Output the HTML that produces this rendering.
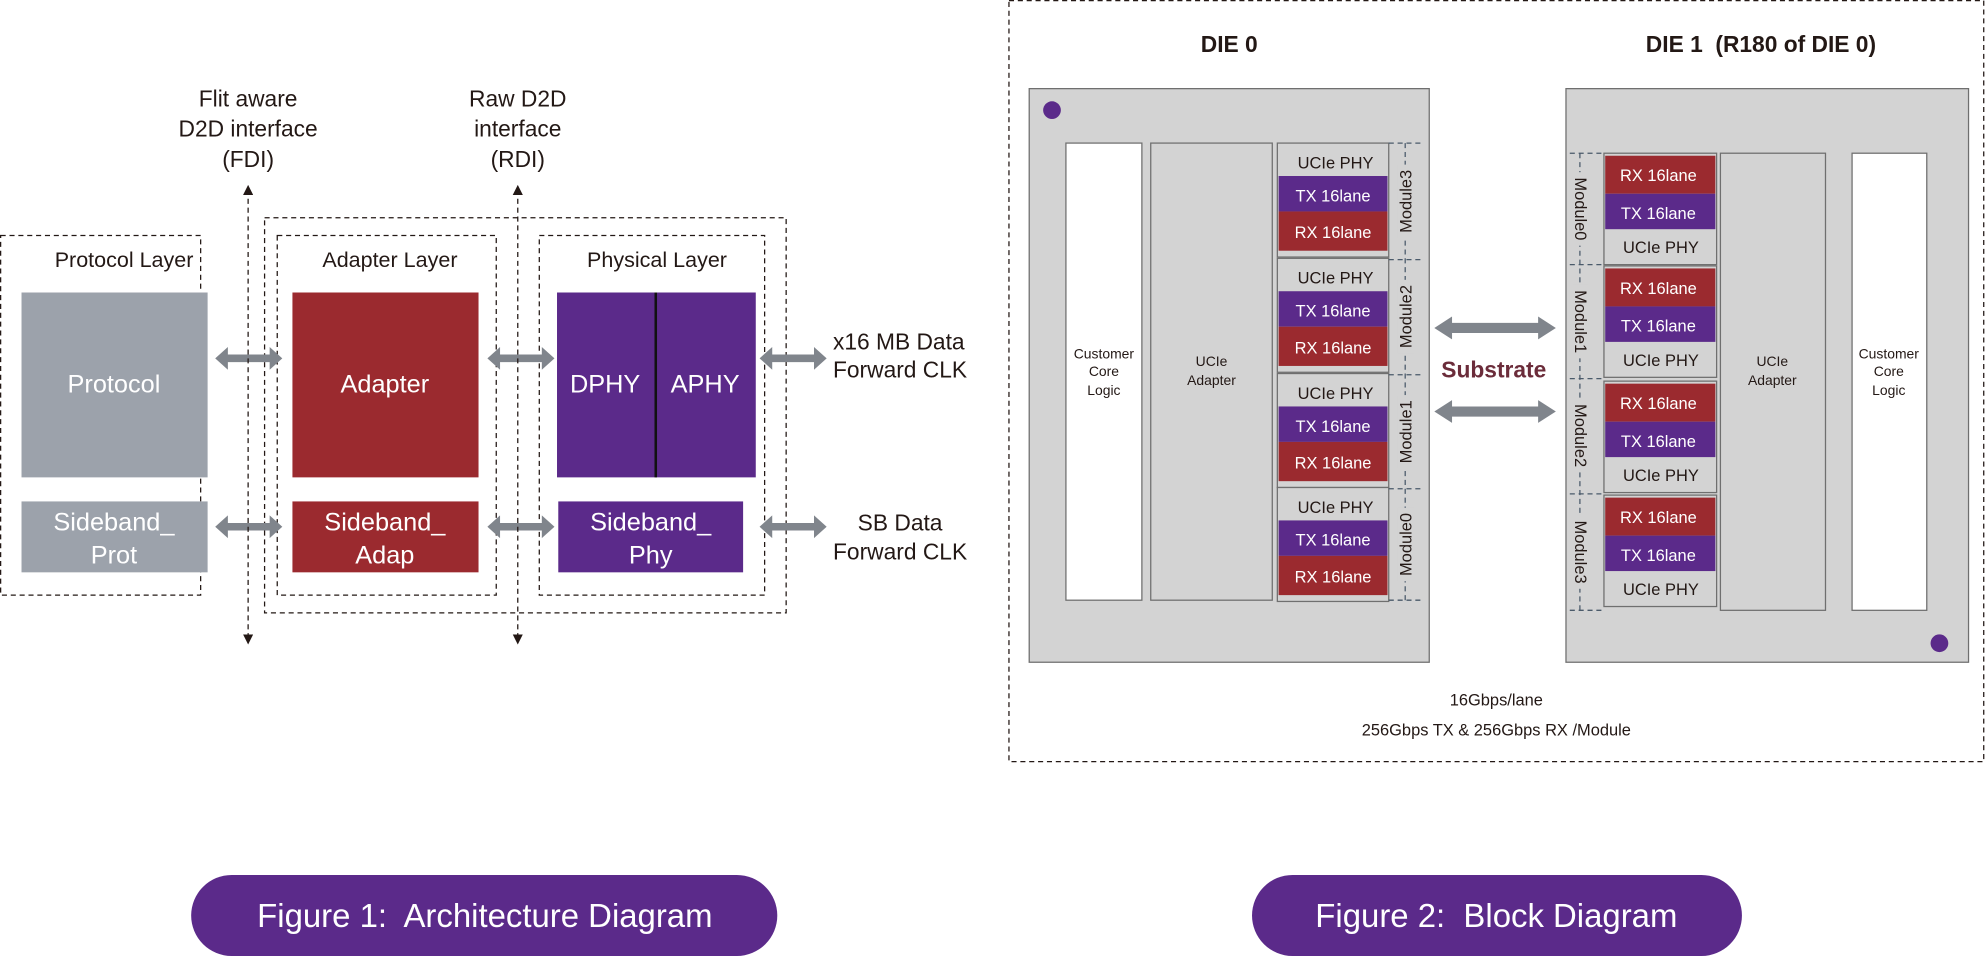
<!DOCTYPE html>
<html><head><meta charset="utf-8"><style>
html,body{margin:0;padding:0;background:#fff;width:1985px;height:956px;overflow:hidden}
svg{display:block}
text{font-family:"Liberation Sans",sans-serif}
</style></head><body>
<svg width="1985" height="956" viewBox="0 0 1568 755" preserveAspectRatio="none" xmlns="http://www.w3.org/2000/svg">
<defs>
<marker id="ah" viewBox="0 0 10 10" refX="5" refY="5" markerWidth="8" markerHeight="8" orient="auto-start-reverse"><path d="M0,0L10,5L0,10z" fill="#231815"/></marker>
<g id="darr"><path d="M0,0 l10,-9 v6 h33 v-6 l10,9 l-10,9 v-6 h-33 v6z" fill="#80858c"/></g>
<g id="darrB"><path d="M0,0 l14,-9 v5 h68 v-5 l14,9 l-14,9 v-5 h-68 v5z" fill="#80858c"/></g>
</defs>

<!-- Figure 1 -->
<g font-size="18" fill="#231815" text-anchor="middle">
<text x="196" y="84">Flit aware</text><text x="196" y="108">D2D interface</text><text x="196" y="132">(FDI)</text>
<text x="409" y="84">Raw D2D</text><text x="409" y="108">interface</text><text x="409" y="132">(RDI)</text>
</g>
<g fill="none" stroke="#231815" stroke-width="1" stroke-dasharray="4,3">
<rect x="209" y="172" width="412" height="312"/>
<rect x="0.5" y="186" width="158" height="284"/>
<rect x="219" y="186" width="173" height="284"/>
<rect x="426" y="186" width="178" height="284"/>
</g>
<g font-size="17" fill="#231815" text-anchor="middle">
<text x="98" y="211">Protocol Layer</text><text x="308" y="211">Adapter Layer</text><text x="519" y="211">Physical Layer</text>
</g>
<rect x="17" y="231" width="147" height="146" fill="#9ca2ab"/>
<rect x="231" y="231" width="147" height="146" fill="#9b2a2f"/>
<rect x="440" y="231" width="157" height="146" fill="#5b2a8a"/>
<line x1="518" y1="231" x2="518" y2="377" stroke="#111" stroke-width="2"/>
<rect x="17" y="396" width="147" height="56" fill="#9ca2ab"/>
<rect x="231" y="396" width="147" height="56" fill="#9b2a2f"/>
<rect x="441" y="396" width="146" height="56" fill="#5b2a8a"/>
<g fill="#fff" text-anchor="middle" font-size="20">
<text x="90" y="310">Protocol</text><text x="304" y="310">Adapter</text>
<text x="478" y="310">DPHY</text><text x="557" y="310">APHY</text>
<text x="90" y="419">Sideband_</text><text x="90" y="445">Prot</text>
<text x="304" y="419">Sideband_</text><text x="304" y="445">Adap</text>
<text x="514" y="419">Sideband_</text><text x="514" y="445">Phy</text>
</g>
<use href="#darr" x="170" y="283"/><use href="#darr" x="170" y="416"/>
<use href="#darr" x="385" y="283"/><use href="#darr" x="385" y="416"/>
<use href="#darr" x="600" y="283"/><use href="#darr" x="600" y="416"/>
<g stroke="#231815" stroke-width="1" stroke-dasharray="4,3">
<line x1="196" y1="150" x2="196" y2="505" marker-start="url(#ah)" marker-end="url(#ah)"/>
<line x1="409" y1="150" x2="409" y2="505" marker-start="url(#ah)" marker-end="url(#ah)"/>
</g>
<g font-size="18" fill="#231815">
<text x="658" y="276">x16 MB Data</text><text x="658" y="298">Forward CLK</text>
<text x="711" y="419" text-anchor="middle">SB Data</text><text x="711" y="442" text-anchor="middle">Forward CLK</text>
</g>

<!-- Figure 2 -->
<rect x="797" y="0.5" width="770" height="601" fill="none" stroke="#231815" stroke-dasharray="4,3"/>
<g font-size="18" font-weight="bold" fill="#231815" text-anchor="middle">
<text x="971" y="41">DIE 0</text><text x="1391" y="41" xml:space="preserve">DIE 1  (R180 of DIE 0)</text>
</g>
<rect x="813" y="70" width="316" height="453" fill="#d3d3d3" stroke="#6f6f6f"/>
<rect x="1237" y="70" width="318" height="453" fill="#d3d3d3" stroke="#6f6f6f"/>
<circle cx="831" cy="87" r="7" fill="#5b2a8a"/><circle cx="1532" cy="508" r="7" fill="#5b2a8a"/>
<rect x="842" y="113" width="60" height="361" fill="#fff" stroke="#6f6f6f"/>
<rect x="909" y="113" width="96" height="361" fill="#d3d3d3" stroke="#6f6f6f"/>
<rect x="1463" y="121" width="59" height="361" fill="#fff" stroke="#6f6f6f"/>
<rect x="1359" y="121" width="83" height="361" fill="#d3d3d3" stroke="#6f6f6f"/>
<g font-size="11" fill="#231815" text-anchor="middle">
<text x="872" y="283">Customer</text><text x="872" y="297">Core</text><text x="872" y="312">Logic</text>
<text x="957" y="289">UCIe</text><text x="957" y="304">Adapter</text>
<text x="1492" y="283">Customer</text><text x="1492" y="297">Core</text><text x="1492" y="312">Logic</text>
<text x="1400" y="289">UCIe</text><text x="1400" y="304">Adapter</text>
</g>
<g font-size="13" text-anchor="middle">
<g id="m0">
<rect x="1009" y="113" width="88" height="90" fill="#d3d3d3" stroke="#6f6f6f"/>
<rect x="1010" y="139" width="86" height="28" fill="#5b2a8a"/>
<rect x="1010" y="167" width="86" height="31" fill="#9b2a2f"/>
<text x="1055" y="133" fill="#231815">UCIe PHY</text>
<text x="1053" y="159" fill="#fff">TX 16lane</text>
<text x="1053" y="188" fill="#fff">RX 16lane</text>
</g>
<use href="#m0" y="91"/><use href="#m0" y="182"/><use href="#m0" y="272"/>
<g id="m1">
<rect x="1267" y="121" width="89" height="88" fill="#d3d3d3" stroke="#6f6f6f"/>
<rect x="1268" y="123" width="87" height="30" fill="#9b2a2f"/>
<rect x="1268" y="153" width="87" height="28" fill="#5b2a8a"/>
<text x="1310" y="143" fill="#fff">RX 16lane</text>
<text x="1310" y="173" fill="#fff">TX 16lane</text>
<text x="1312" y="200" fill="#231815">UCIe PHY</text>
</g>
<use href="#m1" y="89"/><use href="#m1" y="180"/><use href="#m1" y="270"/>
</g>
<g stroke="#4a5a6a" stroke-dasharray="4,3" fill="none">
<line x1="1110" y1="113" x2="1110" y2="474"/>
<line x1="1097" y1="113" x2="1123" y2="113"/><line x1="1097" y1="205" x2="1123" y2="205"/>
<line x1="1097" y1="296" x2="1123" y2="296"/><line x1="1097" y1="386" x2="1123" y2="386"/>
<line x1="1097" y1="474" x2="1123" y2="474"/>
<line x1="1248" y1="121" x2="1248" y2="482"/>
<line x1="1240" y1="121" x2="1267" y2="121"/><line x1="1240" y1="209" x2="1267" y2="209"/>
<line x1="1240" y1="299" x2="1267" y2="299"/><line x1="1240" y1="390" x2="1267" y2="390"/>
<line x1="1240" y1="482" x2="1267" y2="482"/>
</g>
<g font-size="13" fill="#231815" text-anchor="middle">
<g fill="#231815">
<rect x="1104" y="130" width="13" height="58" fill="#d3d3d3"/><rect x="1104" y="221" width="13" height="58" fill="#d3d3d3"/>
<rect x="1104" y="312" width="13" height="58" fill="#d3d3d3"/><rect x="1104" y="401" width="13" height="58" fill="#d3d3d3"/>
<rect x="1242" y="136" width="13" height="58" fill="#d3d3d3"/><rect x="1242" y="225" width="13" height="58" fill="#d3d3d3"/>
<rect x="1242" y="315" width="13" height="58" fill="#d3d3d3"/><rect x="1242" y="407" width="13" height="58" fill="#d3d3d3"/>
</g>
<text transform="translate(1115,159) rotate(-90)">Module3</text>
<text transform="translate(1115,250) rotate(-90)">Module2</text>
<text transform="translate(1115,341) rotate(-90)">Module1</text>
<text transform="translate(1115,430) rotate(-90)">Module0</text>
<text transform="translate(1244,165) rotate(90)">Module0</text>
<text transform="translate(1244,254) rotate(90)">Module1</text>
<text transform="translate(1244,344) rotate(90)">Module2</text>
<text transform="translate(1244,436) rotate(90)">Module3</text>
</g>
<use href="#darrB" x="1133" y="259"/><use href="#darrB" x="1133" y="325"/>
<text x="1180" y="298" font-size="18" font-weight="bold" fill="#6b2c3a" text-anchor="middle">Substrate</text>
<g font-size="13" fill="#231815" text-anchor="middle">
<text x="1182" y="557">16Gbps/lane</text><text x="1182" y="581">256Gbps TX &amp; 256Gbps RX /Module</text>
</g>

<rect x="151" y="691" width="463" height="64" rx="32" fill="#5b2a8a"/>
<text x="383" y="732" font-size="26" fill="#fff" text-anchor="middle" xml:space="preserve">Figure 1:  Architecture Diagram</text>
<rect x="989" y="691" width="387" height="64" rx="32" fill="#5b2a8a"/>
<text x="1182" y="732" font-size="26" fill="#fff" text-anchor="middle" xml:space="preserve">Figure 2:  Block Diagram</text>
</svg>
</body></html>
